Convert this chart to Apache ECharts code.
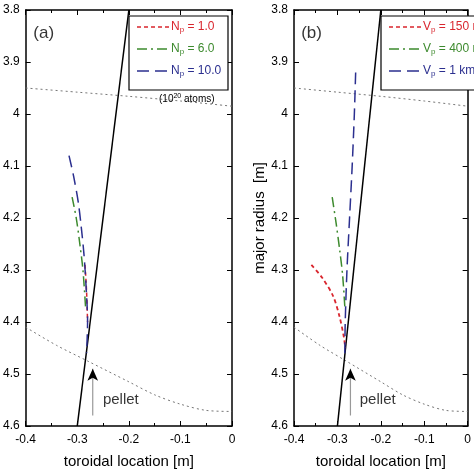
<!DOCTYPE html><html><head><meta charset="utf-8">
<script src="https://cdn.jsdelivr.net/npm/echarts@6/dist/echarts.min.js"></script>
<style>html,body{margin:0;padding:0;background:#fff}#c{width:474px;height:474px}</style></head><body><div id="c"></div><script>
const wall = [[-0.2,3.8],[-0.3,4.6]];
const upperSep = [[-0.4,3.95],[-0.3,3.958],[-0.2,3.966],[-0.1,3.975],[0,3.985]];
const lowerSep = [[-0.4,4.41],[-0.34,4.445],[-0.28,4.475],[-0.2,4.515],[-0.15,4.54],[-0.1,4.558],[-0.05,4.57],[0,4.572]];
const aRed = [[-0.285,4.29],[-0.282,4.34],[-0.28,4.4]];
const aGreen = [[-0.31,4.16],[-0.302,4.2],[-0.295,4.25],[-0.289,4.3],[-0.284,4.37]];
const aBlue = [[-0.316,4.08],[-0.307,4.12],[-0.298,4.17],[-0.292,4.22],[-0.287,4.27],[-0.283,4.33],[-0.28,4.4],[-0.282,4.46]];
const bRed = [[-0.36,4.29],[-0.335,4.315],[-0.31,4.35],[-0.295,4.39],[-0.285,4.43],[-0.282,4.45]];
const bGreen = [[-0.312,4.16],[-0.303,4.21],[-0.295,4.26],[-0.288,4.31],[-0.283,4.37]];
const bBlue = [[-0.258,3.92],[-0.261,4.0],[-0.266,4.1],[-0.272,4.2],[-0.278,4.3],[-0.282,4.4],[-0.283,4.46]];
const arrow = [[-0.27,4.58],[-0.27,4.49]];
const legA = ['N','p',' = 1.0','N','p',' = 6.0','N','p',' = 10.0'];
const legB = ['V','p',' = 150 m/s','V','p',' = 400 m/s','V','p',' = 1 km/s'];
const RED='#d9262e', GREEN='#3d8a2e', BLUE='#2b2f8f';
const fmt = v => { const r=Math.round(v*10)/10; return r===0?'0':String(r); };
const grids=[{left:23,top:10,width:209,height:416},{left:294,top:10,width:209,height:416}];
const xAxis=[], yAxis=[];
for(let i=0;i<2;i++){
 const ax={gridIndex:i,min:-0.4,max:0,interval:0.1,axisLine:{onZero:false,lineStyle:{color:'#000',width:1.5}},axisTick:{inside:true,length:5,lineStyle:{color:'#000'}},minorTick:{show:true,splitNumber:2,length:3,lineStyle:{color:'#000'}},splitLine:{show:false},axisLabel:{color:'#000',fontSize:12,fontFamily:'Liberation Sans',formatter:fmt},name:'toroidal location [m]',nameLocation:'middle',nameGap:28,nameTextStyle:{color:'#000',fontSize:15,fontFamily:'Liberation Sans'}};
 xAxis.push(ax);
 xAxis.push(Object.assign({},ax,{position:'top',axisLabel:{show:false},name:''}));
 const ay={gridIndex:i,inverse:true,min:3.8,max:4.6,interval:0.1,axisLine:{onZero:false,lineStyle:{color:'#000',width:1.5}},axisTick:{inside:true,length:5,lineStyle:{color:'#000'}},splitLine:{show:false},axisLabel:{color:'#000',fontSize:12,fontFamily:'Liberation Sans',formatter:fmt,margin:6},name:i===1?'major radius  [m]':'',nameLocation:'middle',nameGap:26,nameTextStyle:{color:'#000',fontSize:15,fontFamily:'Liberation Sans'}};
 yAxis.push(ay);
 yAxis.push(Object.assign({},ay,{position:'right',axisLabel:{show:false},name:''}));
}
const series=[];
function ln(g,data,color,type,w,z){series.push({type:'line',xAxisIndex:g*2,yAxisIndex:g*2,data,symbol:'none',smooth:0.3,lineStyle:{color,type,width:w},z:z||2,silent:true});}
for(let g=0;g<2;g++){
 ln(g,upperSep,'#777',[2,3],1);
 ln(g,lowerSep,'#777',[2,3],1);
 ln(g,wall,'#000','solid',1.5,3);
 series.push({type:'line',xAxisIndex:g*2,yAxisIndex:g*2,data:[{value:arrow[0],symbol:'none'},{value:arrow[1],symbol:'arrow',symbolSize:[8,12]}],lineStyle:{color:'#999',width:1.2},itemStyle:{color:'#000'},showSymbol:true,silent:true});
 series.push({type:'scatter',xAxisIndex:g*2,yAxisIndex:g*2,data:[[-0.26,4.55]],symbolSize:0,label:{show:true,position:'right',formatter:'pellet',color:'#000',fontSize:15,fontFamily:'Liberation Sans'}});
 series.push({type:'scatter',xAxisIndex:g*2,yAxisIndex:g*2,data:[[-0.395,3.845]],symbolSize:0,label:{show:true,position:'right',formatter:g?'(b)':'(a)',color:'#000',fontSize:17,fontFamily:'Liberation Sans'}});
}
ln(0,aRed,RED,[4,3],1.5,4); ln(0,aGreen,GREEN,[10,4,2,4],1.5,4); ln(0,aBlue,BLUE,[12,6],1.5,4);
ln(1,bRed,RED,[4,3],1.8,4); ln(1,bGreen,GREEN,[10,4,2,4],1.5,4); ln(1,bBlue,BLUE,[12,6],1.5,4);
const graphic=[];
function legend(x0,labels,extra){
 graphic.push({type:'rect',shape:{x:x0,y:16,width:99,height:74},style:{fill:'#fff',stroke:'#000',lineWidth:1.2},z:10});
 const cols=[RED,GREEN,BLUE], dashes=[[4,3],[10,4,2,4],[12,6]];
 for(let i=0;i<3;i++){
  const y=27+i*22;
  graphic.push({type:'line',shape:{x1:x0+8,y1:y,x2:x0+40,y2:y},style:{stroke:cols[i],lineWidth:1.5,lineDash:dashes[i]},z:11});
  graphic.push({type:'text',x:x0+42,y:y,style:{text:'{m|'+labels[i*3]+'}{s|'+labels[i*3+1]+'}{m|'+labels[i*3+2]+'}',rich:{m:{fill:cols[i],fontSize:12,fontFamily:'Liberation Sans'},s:{fill:cols[i],fontSize:8,fontFamily:'Liberation Sans',padding:[6,0,0,0]}},verticalAlign:'middle'},z:11});
 }
 if(extra) graphic.push({type:'text',x:x0+30,y:99,style:{text:'{m|(10}{s|20}{m| atoms)}',rich:{m:{fill:'#000',fontSize:10,fontFamily:'Liberation Sans'},s:{fill:'#000',fontSize:7,fontFamily:'Liberation Sans',padding:[0,0,6,0]}},verticalAlign:'middle'},z:11});
}
legend(129,legA,true);
legend(381,legB,false);
const chart=echarts.init(document.getElementById('c'));
chart.setOption({animation:false,backgroundColor:'#fff',grid:grids,xAxis,yAxis,series,graphic});
</script></body></html>
